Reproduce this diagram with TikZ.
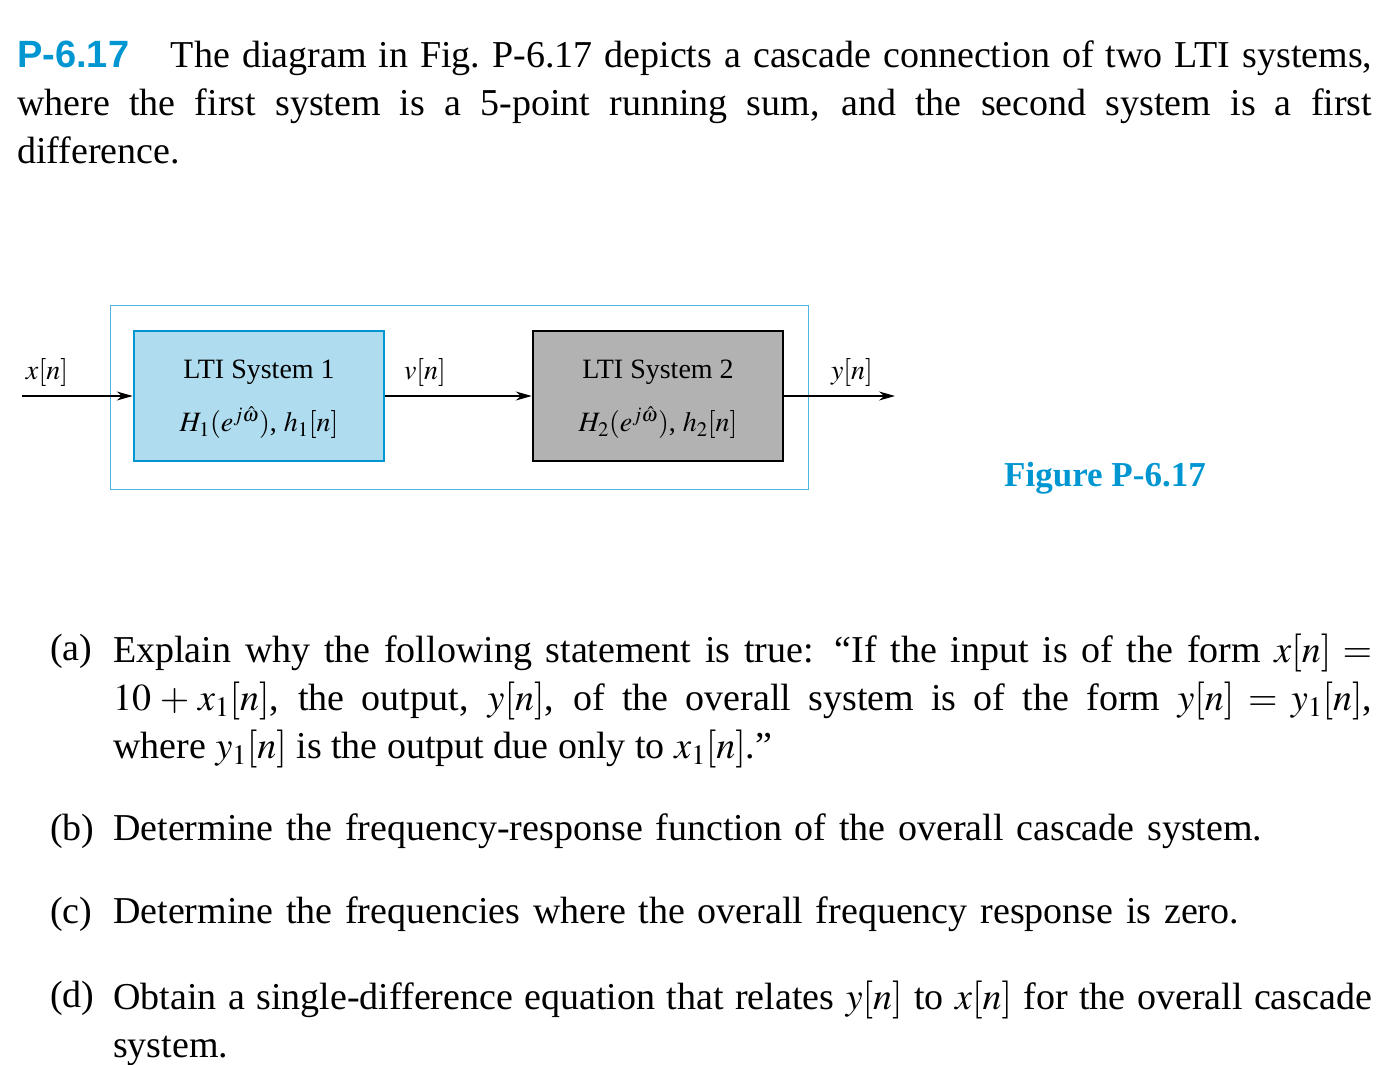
\documentclass[tikz,border=0pt]{standalone}
\usepackage{mathptmx}
\usepackage{fontspec}
\setmainfont{Liberation Serif}
\newfontfamily\hsans{Liberation Sans}
\usetikzlibrary{arrows.meta}
\definecolor{pblue}{RGB}{0,150,210}
\definecolor{lblue}{RGB}{175,220,238}
\definecolor{bgray}{RGB}{178,178,178}
\tikzset{
 body/.style={anchor=north west,inner sep=0pt,font=\fontsize{38}{48}\selectfont,align=justify},
 lbl/.style={inner sep=0pt,font=\fontsize{28}{32}\selectfont},
 sig/.style={-{Stealth[length=16pt,width=9pt]},line width=1.2pt},
}
\begin{document}
\begin{tikzpicture}[x=1pt,y=-1pt]
\useasboundingbox (0,0) rectangle (1398,1065);
\node[body,text width=1355pt] (p) at (17,41) {{\hsans\bfseries\color{pblue}P-6.17}\hspace{1.1em}The diagram in Fig.\ P-6.17 depicts a cascade connection of two LTI systems,\linebreak where the first system is a 5-point running sum, and the second system is a first\linebreak difference.};
\draw[pblue!70,line width=0.8pt] (110,305) rectangle (808,489);
\node[draw=pblue,fill=lblue,line width=2.5pt,minimum width=250pt,minimum height=130pt,inner sep=0pt] (s1) at (259,396) {};
\node[draw=black,fill=bgray,line width=2.5pt,minimum width=250pt,minimum height=130pt,inner sep=0pt] (s2) at (658,396) {};
\node[lbl] (t1) at (259,372) {LTI System 1};
\node[lbl] (f1) at (259,423) {$H_1(e^{j\hat\omega})$, $h_1[n]$};
\node[lbl] (t2) at (658,372) {LTI System 2};
\node[lbl] (f2) at (658,423) {$H_2(e^{j\hat\omega})$, $h_2[n]$};
\coordinate (in) at (22,396);
\coordinate (out) at (895,396);
\draw[sig] (in) -- (s1.west);
\draw[sig] (s1.east) -- (s2.west);
\draw[sig] (s2.east) -- (out);
\node[lbl] (x) at (47,372) {$x[n]$};
\node[lbl] (v) at (425,372) {$v[n]$};
\node[lbl] (y) at (852,372) {$y[n]$};
\node[inner sep=0pt,font=\fontsize{35}{40}\selectfont\bfseries,text=pblue] (fig) at (1105,478) {Figure P-6.17};
\node[body,anchor=north west] (la) at (50,634) {(a)};
\node[body,text width=1259pt] (a) at (113,634) {Explain why the following statement is true: ``If the input is of the form $x[n]=$\linebreak $10+x_1[n]$, the output, $y[n]$, of the overall system is of the form $y[n]=y_1[n]$,\linebreak where $y_1[n]$ is the output due only to $x_1[n]$.''};
\node[body] (lb) at (50,814) {(b)};
\node[body,text width=1259pt,align=left] (b) at (113,814) {Determine the frequency-response function of the overall cascade system.};
\node[body] (lc) at (50,897) {(c)};
\node[body,text width=1259pt,align=left] (c) at (113,897) {Determine the frequencies where the overall frequency response is zero.};
\node[body] (ld) at (50,981) {(d)};
\node[body,text width=1259pt] (d) at (113,981) {Obtain a single-difference equation that relates $y[n]$ to $x[n]$ for the overall cascade system.};
\end{tikzpicture}
\end{document}
